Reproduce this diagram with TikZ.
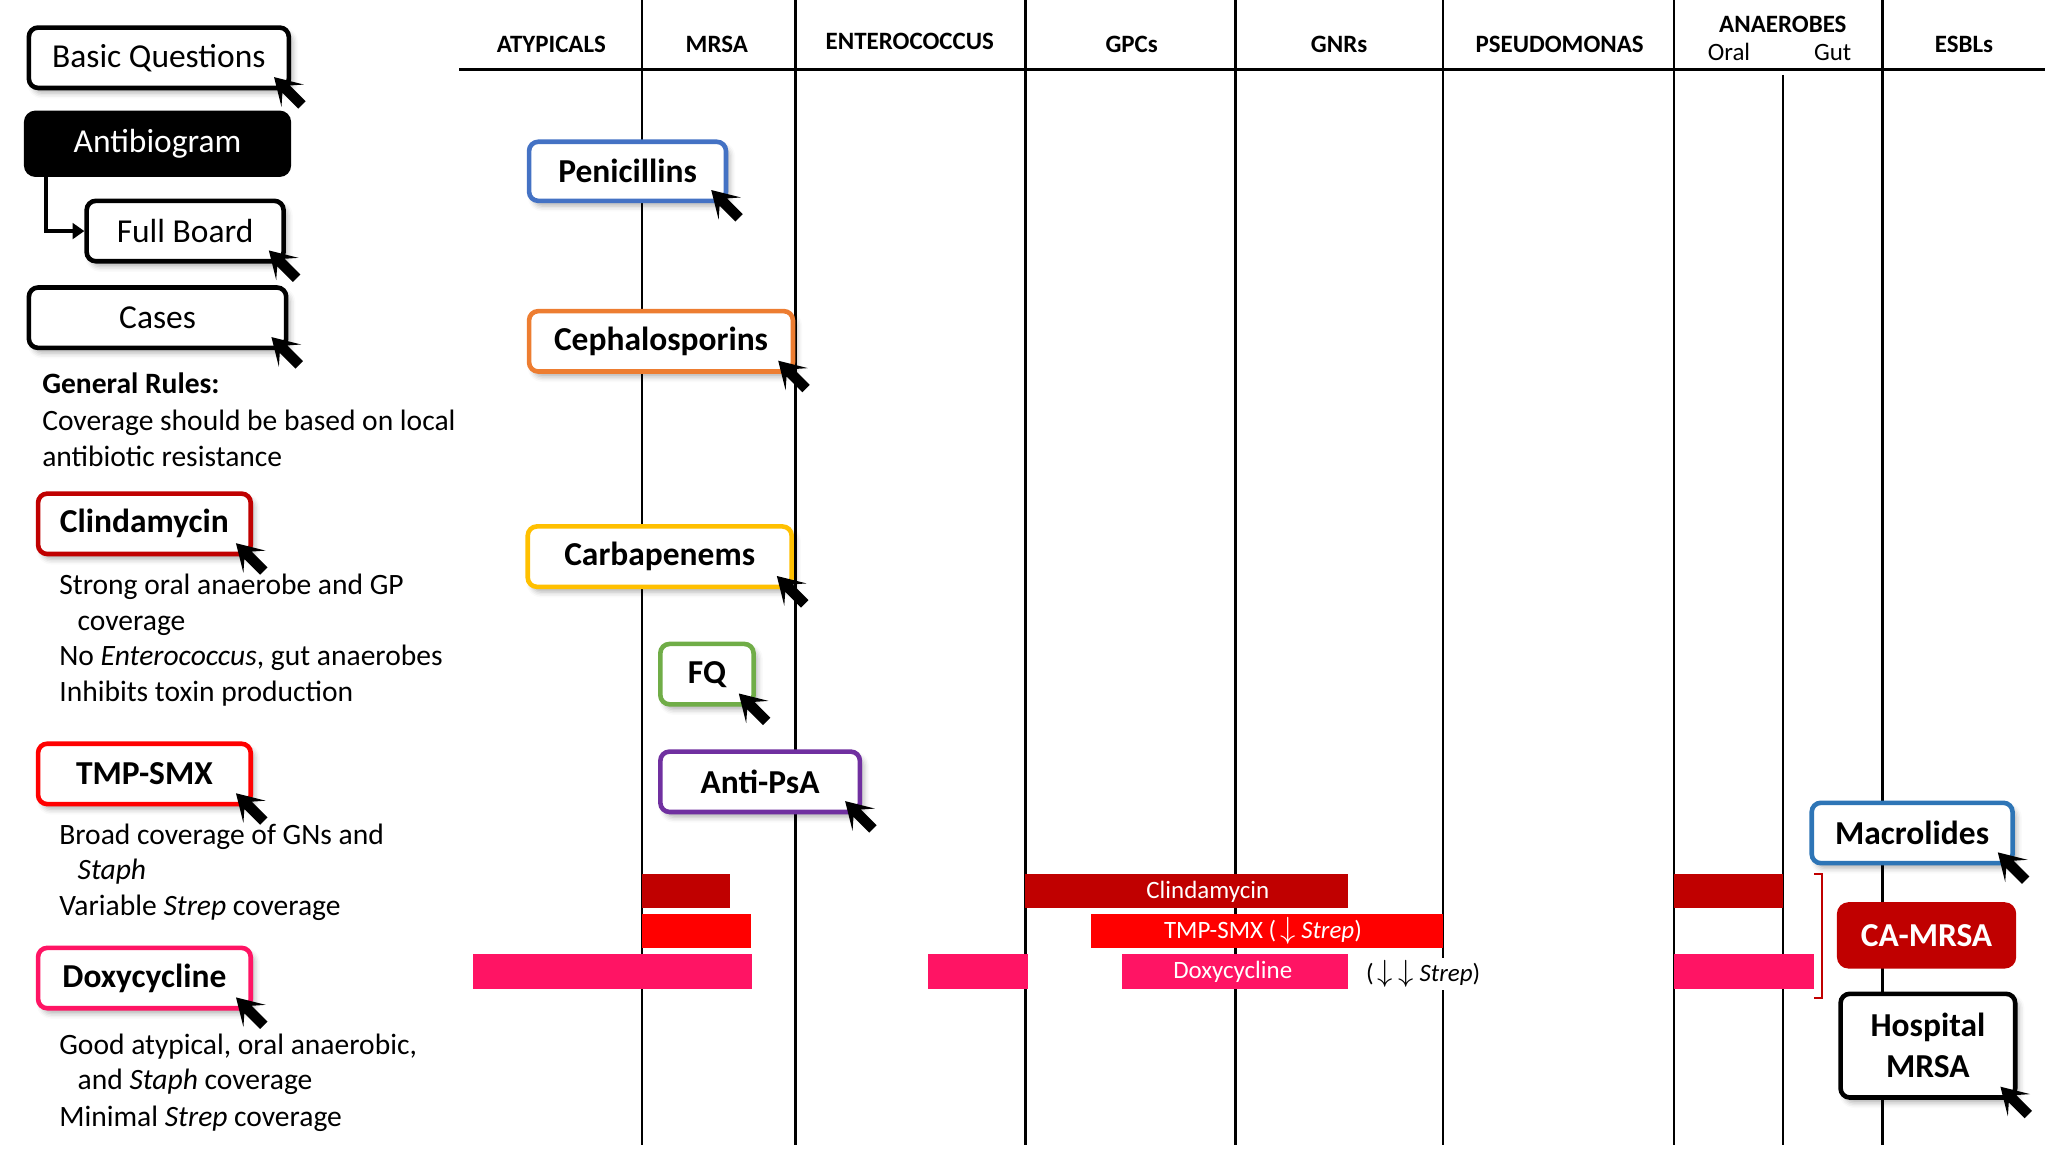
\documentclass[tikz,border=0pt]{standalone}
\usepackage{fontspec}
\setmainfont{Carlito}
\usepackage{tikz}
\usetikzlibrary{arrows.meta}
\usetikzlibrary{shadows.blur}
\usepackage{xcolor}

\definecolor{clindared}{HTML}{C00000}
\definecolor{tmpred}{HTML}{FF0000}
\definecolor{doxypink}{HTML}{FF1464}
\definecolor{pcnblue}{HTML}{4472C4}
\definecolor{cephorange}{HTML}{ED7D31}
\definecolor{carbagold}{HTML}{FFC000}
\definecolor{fqgreen}{HTML}{70AD47}
\definecolor{psapurple}{HTML}{7030A0}
\definecolor{macroblue}{HTML}{2E75B6}

\newcommand{\bodyfont}{\fontsize{22.5}{27}\selectfont}
\newcommand{\tabfont}{\fontsize{19}{23}\selectfont}
\newcommand{\labfont}{\fontsize{25.5}{31}\selectfont}
\newcommand{\dn}{\scalebox{1.35}{$\downarrow$}}

\tikzset{
	boxbase/.style={draw=black, fill=white, line width=3.5pt, rounded corners=7pt, inner sep=0pt, minimum height=46pt, font=\labfont},
	menubox/.style={boxbase, blur shadow={shadow xshift=3pt, shadow yshift=-4pt, shadow blur radius=4pt, shadow opacity=30}},
	drugbox/.style={menubox, draw=#1, font=\labfont\bfseries},
	txt/.style={anchor=base west, inner sep=0pt, font=\bodyfont},
	head/.style={anchor=base, inner sep=0pt, font=\tabfont\bfseries},
	vline/.style={line width=1.8pt},
	barlab/.style={text=white, inner sep=0pt, font=\tabfont},
	cursor/.pic={\fill[black, rotate=-45] (0,0) -- (20,12) -- (13,4) -- (30,4) -- (30,-4) -- (13,-4) -- (20,-12) -- cycle;}
}

\begin{document}
\begin{tikzpicture}[x=1pt,y=-1pt]
		\useasboundingbox (0,0) rectangle (1560,877.5);
		\draw[line width=2.5pt] (350,53) -- (1558,53);
		\foreach \x in {489,606,781,941,1099,1275,1434}
			\draw[vline] (\x,0) -- (\x,872);
		\draw[vline] (1358,57) -- (1358,872);

		\node[head] (atyp) at (420,40) {ATYPICALS};
		\node[head] (mrsa) at (546,40) {MRSA};
		\node[head] (entero) at (693,38) {ENTEROCOCCUS};
		\node[head] (gpc) at (862,40) {GPCs};
		\node[head] (gnr) at (1020,40) {GNRs};
		\node[head] (pseudo) at (1188,40) {PSEUDOMONAS};
		\node[head] (anaer) at (1358,25) {ANAEROBES};
		\node[head, font=\tabfont] (oral) at (1317,46) {Oral};
		\node[head, font=\tabfont] (gut) at (1396,46) {Gut};
		\node[head] (esbl) at (1496,40) {ESBLs};

		\node[menubox, minimum width=198pt] (basicq) at (121,44) {Basic Questions};
		\node[boxbase, fill=black, text=white, minimum width=200pt, minimum height=47pt] (antibiogram) at (120,109.5) {Antibiogram};
		\node[menubox, minimum width=150pt] (fullboard) at (141,176) {Full Board};
		\node[menubox, minimum width=196pt] (cases) at (120,242) {Cases};
		\draw[line width=3.5pt, -{Triangle[length=9pt,width=12pt]}] ([xshift=-85pt]antibiogram.south) |- (fullboard.west);

		\node[txt] (rules) at (32,300) {\textbf{General Rules:}};
		\node[txt] (rules1) at (32,328) {Coverage should be based on local};
		\node[txt] (rules2) at (32,355) {antibiotic resistance};

		\node[drugbox=clindared, minimum width=162pt] (clinda) at (110,399) {Clindamycin};
		\node[txt] (clinda1) at (45,453) {Strong oral anaerobe and GP};
		\node[txt] (clinda2) at (59,480) {coverage};
		\node[txt] (clinda3) at (45,507) {No \textit{Enterococcus}, gut anaerobes};
		\node[txt] (clinda4) at (45,534) {Inhibits toxin production};

		\node[drugbox=tmpred, minimum width=162pt] (tmpsmx) at (110,589.5) {TMP-SMX};
		\node[txt] (tmp1) at (45,643) {Broad coverage of GNs and};
		\node[txt] (tmp2) at (59,670) {\textit{Staph}};
		\node[txt] (tmp3) at (45,697) {Variable \textit{Strep} coverage};

		\node[drugbox=doxypink, minimum width=162pt] (doxy) at (110,745) {Doxycycline};
		\node[txt] (doxy1) at (45,803) {Good atypical, oral anaerobic,};
		\node[txt] (doxy2) at (59,830) {and \textit{Staph} coverage};
		\node[txt] (doxy3) at (45,858) {Minimal \textit{Strep} coverage};

		\node[drugbox=pcnblue, minimum width=150pt, minimum height=45pt] (pcn) at (478,130.5) {Penicillins};
		\node[drugbox=cephorange, minimum width=201pt] (ceph) at (503.5,260) {Cephalosporins};
		\node[drugbox=carbagold, minimum width=201pt] (carba) at (502.5,424) {Carbapenems};
		\node[drugbox=fqgreen, minimum width=71pt] (fq) at (538.5,513.5) {FQ};
		\node[drugbox=psapurple, minimum width=152pt] (antipsa) at (579,595.5) {Anti-PsA};
		\node[drugbox=macroblue, minimum width=153pt] (macro) at (1456.5,634.5) {Macrolides};
		\node[boxbase, draw=clindared, fill=clindared, text=white, font=\labfont\bfseries, minimum width=133pt, minimum height=47pt] (camrsa) at (1467.5,712.5) {CA-MRSA};
		\node[drugbox=black, align=center, minimum width=133pt, minimum height=79pt] (hmrsa) at (1468.5,796.5) {Hospital\\MRSA};

		\fill[clindared] (489,666) rectangle (556,692);
		\fill[clindared] (781,666) rectangle (1027,692);
		\fill[clindared] (1275,666) rectangle (1358,692);
		\fill[tmpred] (489,696) rectangle (572,722);
		\fill[tmpred] (831,696) rectangle (1099,722);
		\fill[doxypink] (360,727) rectangle (573,753);
		\fill[doxypink] (707,727) rectangle (783,753);
		\fill[doxypink] (855,727) rectangle (1027,753);
		\fill[doxypink] (1275,727) rectangle (1382,753);
		\node[barlab] (clindabar) at (920,679) {Clindamycin};
		\node[barlab] (tmpbar) at (962,709) {TMP-SMX (\,\dn\ \textit{Strep})};
		\node[barlab] (doxybar) at (939,740) {Doxycycline};
		\node[fill=white, inner sep=2pt, font=\tabfont] (doxynote) at (1084,742) {(\,\dn\ \dn\ \textit{Strep})};
		\draw[clindared, line width=1.5pt] (1382,666) -- (1388,666) -- (1388,760) -- (1382,760);

		\foreach \n in {basicq,fullboard,cases,clinda,tmpsmx,doxy,pcn,ceph,carba,fq,antipsa,macro,hmrsa}
			\pic at ([shift={(-13,-10)}]\n.south east) {cursor};
	\end{tikzpicture}
\end{document}
